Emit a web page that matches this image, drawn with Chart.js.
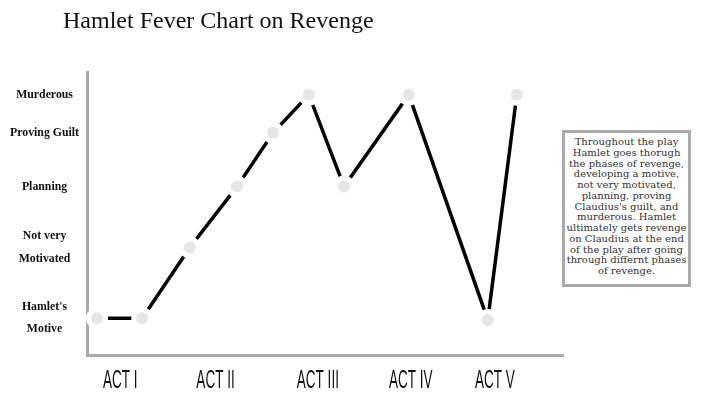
<!DOCTYPE html>
<html>
<head>
<meta charset="utf-8">
<script src="https://cdn.jsdelivr.net/npm/chart.js@4/dist/chart.umd.min.js"></script>
<style>
  html, body { margin: 0; padding: 0; background: #fff; }
  #wrap { position: relative; width: 704px; height: 396px; }
  #title {
    position: absolute; left: 63px; top: 7px;
    font-family: "Liberation Serif", serif; font-size: 24px; color: #111;
    white-space: nowrap;
  }
  #note {
    position: absolute; left: 562px; top: 130px; width: 123px; height: 147px;
    border: 3px solid #aaa; background: #fff;
    font-family: "DejaVu Serif", serif; font-size: 10px; line-height: 10.75px;
    text-align: center; color: #333; padding-top: 4px; white-space: nowrap;
  }
</style>
</head>
<body>
<div id="wrap">
  <canvas id="fever" width="704" height="396"></canvas>
  <div id="title">Hamlet Fever Chart on Revenge</div>
  <div id="note">Throughout the play<br>Hamlet goes thorugh<br>the phases of revenge,<br>developing a motive,<br>not very motivated,<br>planning, proving<br>Claudius's guilt, and<br>murderous. Hamlet<br>ultimately gets revenge<br>on Claudius at the end<br>of the play after going<br>through differnt phases<br>of revenge.</div>
</div>
<script>
// stages of revenge (y axis) and acts (x axis)
const stageLevels = [13, 38, 59.5, 78.5, 92];
const stageLabels = [["Hamlet's", "Motive"], ["Not very", "Motivated"], "Planning", "Proving Guilt", "Murderous"];

const actPositions = [7, 27, 48.5, 68, 85.7];
const actLabels = ["ACT I", "ACT II", "ACT III", "ACT IV", "ACT V"];

// fever line points
const feverX = [2.1, 11.6, 21.6, 31.5, 39.1, 46.6, 54.0, 67.6, 84.2, 90.3];
const feverY = [13, 13, 38, 59.5, 78.5, 92, 59.5, 92, 12.4, 92];

const points = feverX.map((x, i) => ({ x: x, y: feverY[i] }));

// condensed act labels drawn at the x scale's tick positions
const actLabelPlugin = {
  id: "actLabels",
  afterDraw(chart) {
    const c = chart.ctx;
    const xs = chart.scales.x;
    const y = xs.top + 26;
    c.save();
    c.fillStyle = "#111";
    c.textAlign = "center";
    c.textBaseline = "middle";
    c.font = "26px 'Liberation Sans', sans-serif";
    actPositions.forEach((v, i) => {
      const px = xs.getPixelForValue(v);
      c.save();
      c.translate(px, y);
      c.scale(0.52, 1);
      c.fillText(actLabels[i], 0, 0);
      c.restore();
    });
    c.restore();
  },
};

const ctx = document.getElementById("fever");

new Chart(ctx, {
  type: "line",
  data: {
    datasets: [
      {
        label: "Revenge",
        data: points,
        borderColor: "#000",
        borderWidth: 3.5,
        pointRadius: 8.5,
        pointHoverRadius: 8.5,
        pointBackgroundColor: "#e6e6e6",
        pointBorderColor: "#fff",
        pointBorderWidth: 5,
        tension: 0,
        clip: false,
      },
    ],
  },
  options: {
    responsive: false,
    animation: false,
    layout: { padding: { top: 72, right: 141, left: 0, bottom: 0 } },
    plugins: {
      legend: { display: false },
      tooltip: { enabled: false },
    },
    scales: {
      x: {
        type: "linear",
        min: 0,
        max: 100,
        grid: { display: false, drawTicks: false },
        border: { color: "#aaa", width: 3 },
        afterBuildTicks: (scale) => {
          scale.ticks = actPositions.map((v) => ({ value: v }));
        },
        afterFit: (scale) => { scale.height = 41; },
        ticks: { display: false },
      },
      y: {
        type: "linear",
        min: 0,
        max: 100,
        grid: { display: false, drawTicks: false },
        border: { color: "#aaa", width: 3 },
        afterBuildTicks: (scale) => {
          scale.ticks = stageLevels.map((v) => ({ value: v }));
        },
        afterFit: (scale) => { scale.width = 87; },
        ticks: {
          padding: 8,
          crossAlign: "center",
          color: "#111",
          autoSkip: false,
          font: { family: "'Liberation Serif', serif", size: 11.8, weight: "bold", lineHeight: 1.9 },
          callback: (value, index) => stageLabels[index],
        },
      },
    },
  },
  plugins: [actLabelPlugin],
});
</script>
</body>
</html>
